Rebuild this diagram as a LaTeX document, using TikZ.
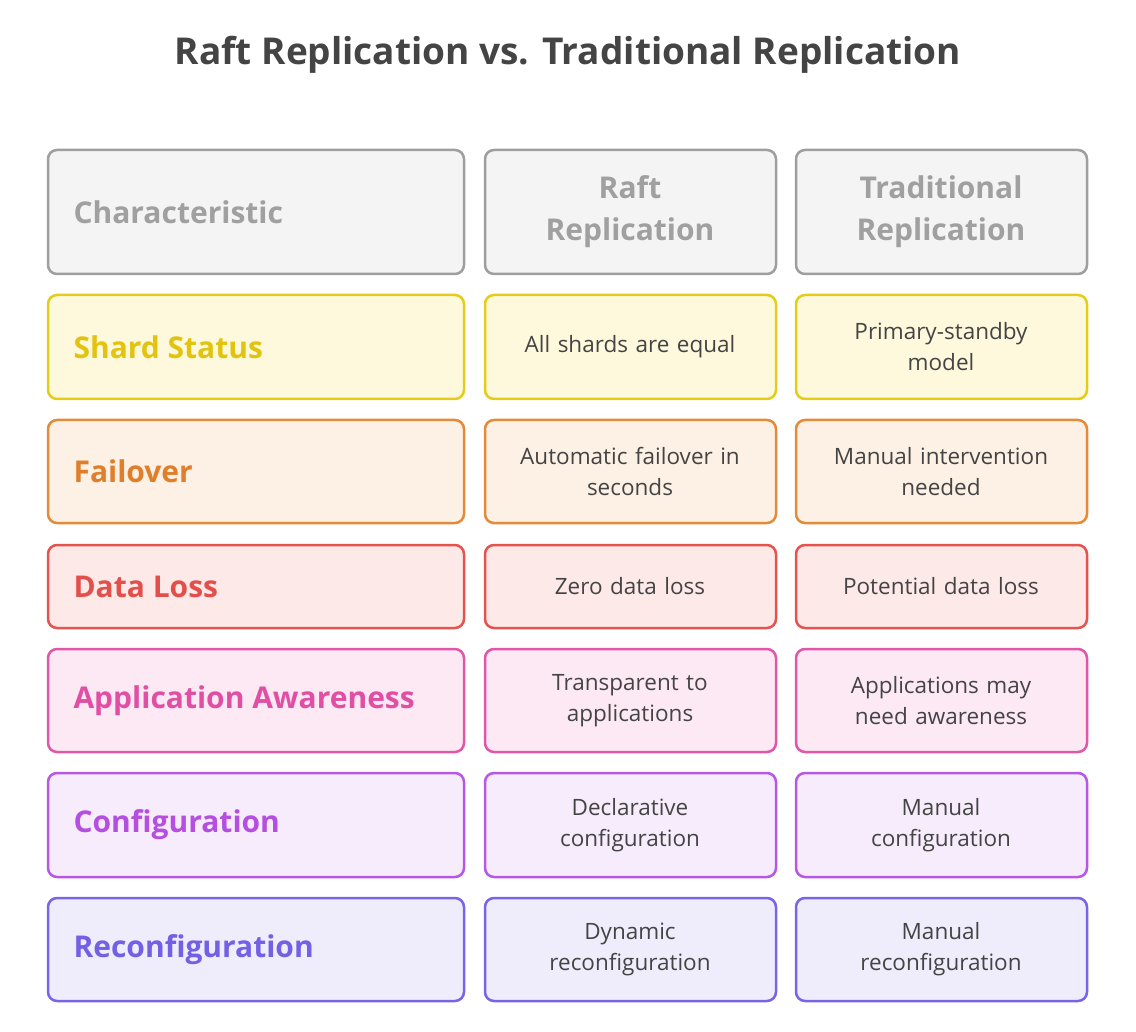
\documentclass[tikz,border=0pt]{standalone}
\usepackage{fontspec}
\setmainfont{Open Sans}
\begin{document}
\begin{tikzpicture}[x=1pt,y=-1pt,
 txt/.style={text=#1, font=\fontsize{22.5}{31}\selectfont, align=center, text width=260pt},
 lab/.style={text=#1, font=\fontsize{30}{34}\selectfont\bfseries, anchor=west}]
\useasboundingbox (0,0) rectangle (1136,1032);
\definecolor{tg}{HTML}{444444}
\definecolor{hb}{HTML}{9E9E9E}\definecolor{hf}{HTML}{F4F4F4}\definecolor{ht}{HTML}{A0A0A0}
\definecolor{yb}{HTML}{E6CC1A}\definecolor{yf}{HTML}{FEF9DC}\definecolor{yt}{HTML}{E2C410}
\definecolor{ob}{HTML}{E48A3B}\definecolor{of}{HTML}{FDF0E4}\definecolor{ot}{HTML}{E07F2B}
\definecolor{rb}{HTML}{E5534F}\definecolor{rf}{HTML}{FDE9E8}\definecolor{rt}{HTML}{E3504C}
\definecolor{pb}{HTML}{E056A8}\definecolor{pf}{HTML}{FDE9F4}\definecolor{pt}{HTML}{E04FA4}
\definecolor{vb}{HTML}{B658E4}\definecolor{vf}{HTML}{F7ECFC}\definecolor{vt}{HTML}{B54FE0}
\definecolor{ib}{HTML}{7A63E6}\definecolor{if}{HTML}{EFEDFC}\definecolor{it}{HTML}{7460E4}
\node[text=tg, font=\fontsize{37}{42}\selectfont\bfseries] (title) at (568,55) {Raft Replication vs. Traditional Replication};
\newcommand\myrow[9]{%
 \draw[draw=#1, fill=#2, rounded corners=9pt, line width=2.5pt] (48,#4) rectangle (464,#5);
 \draw[draw=#1, fill=#2, rounded corners=9pt, line width=2.5pt] (485,#4) rectangle (776,#5);
 \draw[draw=#1, fill=#2, rounded corners=9pt, line width=2.5pt] (796,#4) rectangle (1087,#5);
 \node[lab=#3] (a#9) at (70,{(#4+#5)/2}) {#6};
 \node[txt=tg] (b#9) at (630,{(#4+#5)/2}) {#7};
 \node[txt=tg] (c#9) at (941,{(#4+#5)/2}) {#8};}
\draw[draw=hb, fill=hf, rounded corners=9pt, line width=2.5pt] (48,150) rectangle (464,274);
\draw[draw=hb, fill=hf, rounded corners=9pt, line width=2.5pt] (485,150) rectangle (776,274);
\draw[draw=hb, fill=hf, rounded corners=9pt, line width=2.5pt] (796,150) rectangle (1087,274);
\node[lab=ht] (h1) at (70,212) {Characteristic};
\node[text=ht, font=\fontsize{30}{42}\selectfont\bfseries, align=center] (h2) at (630,212) {Raft\\Replication};
\node[text=ht, font=\fontsize{30}{42}\selectfont\bfseries, align=center] (h3) at (941,212) {Traditional\\Replication};
\myrow{yb}{yf}{yt}{295}{399}{Shard Status}{All shards are equal}{Primary-standby\\model}{1}
\myrow{ob}{of}{ot}{420}{523}{Failover}{Automatic failover in\\seconds}{Manual intervention\\needed}{2}
\myrow{rb}{rf}{rt}{545}{628}{Data Loss}{Zero data loss}{Potential data loss}{3}
\myrow{pb}{pf}{pt}{649}{752}{Application Awareness}{Transparent to\\applications}{Applications may\\need awareness}{4}
\myrow{vb}{vf}{vt}{773}{877}{Configuration}{Declarative\\configuration}{Manual\\configuration}{5}
\myrow{ib}{if}{it}{898}{1001}{Reconfiguration}{Dynamic\\reconfiguration}{Manual\\reconfiguration}{6}
\end{tikzpicture}
\end{document}
